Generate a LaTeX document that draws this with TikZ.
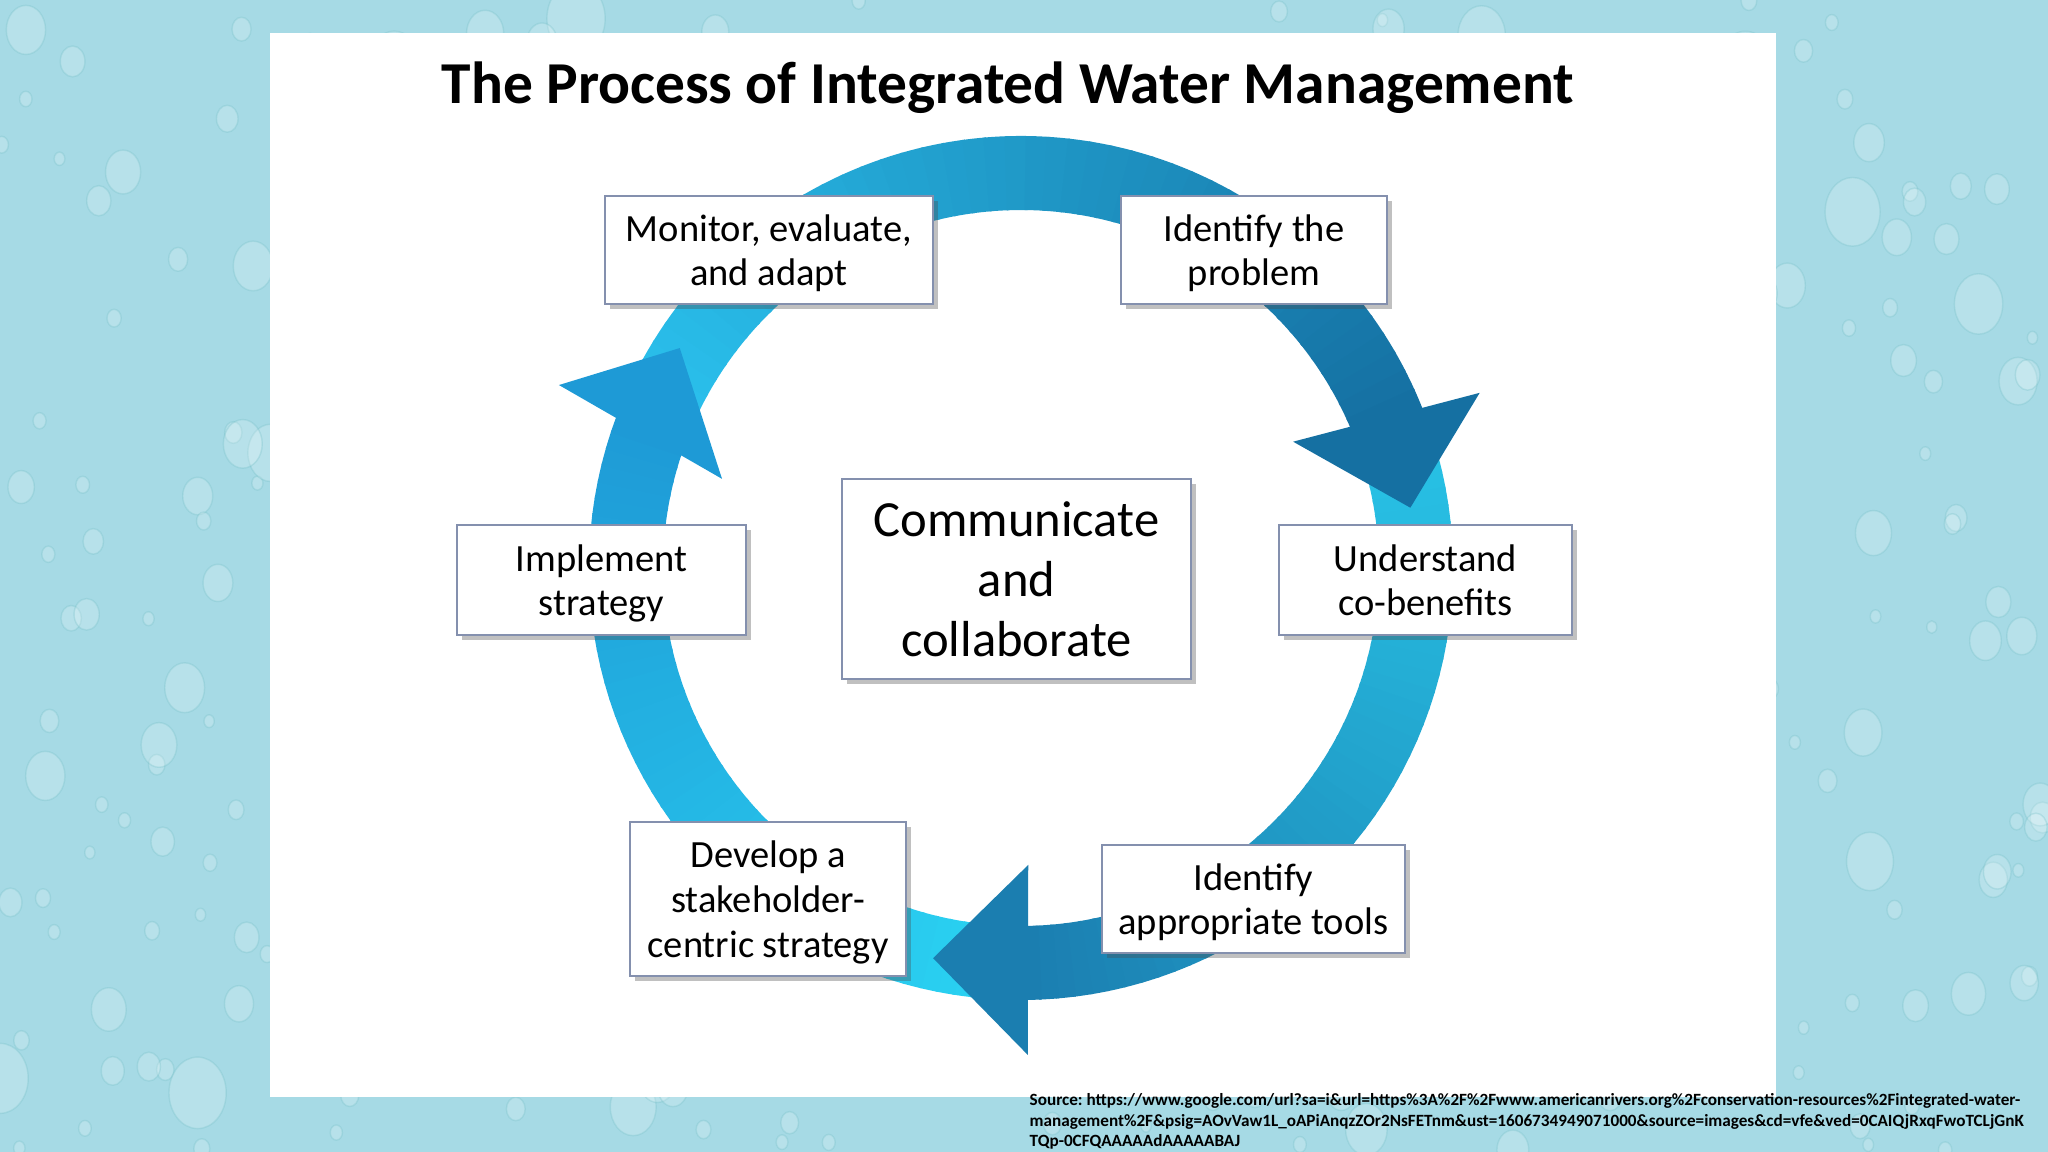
\documentclass[tikz,border=0pt]{standalone}
\usepackage{fontspec}
\setmainfont{Carlito}
\usepackage{tikz}
\usetikzlibrary{shadows}

\definecolor{bgaqua}{HTML}{A6DAE5}
\definecolor{boxline}{HTML}{8490AE}
\definecolor{topL}{HTML}{2AC0EC}
\definecolor{topD}{HTML}{1570A2}
\definecolor{rgtL}{HTML}{28C3E6}
\definecolor{rgtD}{HTML}{1B7EB0}
\definecolor{lftL}{HTML}{2AD2F2}
\definecolor{lftD}{HTML}{1E9AD6}

\begin{document}
\begin{tikzpicture}[x=0.01cm,y=0.01cm,
  every node/.style={font=\fontsize{10.95}{12.7}\selectfont},
  stage/.style={draw=boxline,line width=0.6pt,fill=white,align=center,inner sep=0pt,
    text depth=-1.1pt,
    drop shadow={shadow xshift=0.05cm,shadow yshift=-0.05cm,opacity=0.35,fill=black!70}},
  drop/.style={fill=white,fill opacity=0.2,draw=bgaqua!70!teal,draw opacity=0.3,line width=0.4pt},
  ring/.style={line width=0.74cm},
  head/.style={shift={(c)}}]
\useasboundingbox (0,0) rectangle (2048,1152);
% slide with water drops, white panel
\begin{scope}
\clip (0,0) rectangle (2048,1152);
\fill[bgaqua] (0,0) rectangle (2048,1152);
\pgfmathsetseed{11}
\foreach \i in {1,...,420}{
  \pgfmathsetmacro\dx{rnd*2048}
  \pgfmathsetmacro\dy{rnd*1152}
  \pgfmathsetmacro\dr{5+rnd*rnd*26}
  \draw[drop] (\dx,\dy) ellipse[x radius=\dr,y radius=1.25*\dr];
}
\end{scope}
\fill[white] (270,55) rectangle (1776,1119);
\coordinate (c) at (1021,584);

% three curved arrows, light at the tail, dark at the head
\foreach \sa/\ea/\cl/\cd in {157/21.8/topL/topD,20/-89.5/rgtL/rgtD,-92/-200.5/lftL/lftD}{
  \foreach \k in {0,...,47}{
    \pgfmathsetmacro\ta{\sa+(\ea-\sa)*\k/48}
    \pgfmathsetmacro\tb{\sa+(\ea-\sa)*(\k+1)/48-0.4}
    \pgfmathtruncatemacro\pc{100*\k/47}
    \draw[ring,color=\cd!\pc!\cl] (c) ++(\ta:395) arc[start angle=\ta,end angle=\tb,radius=395];
  }
}
\fill[topD,head] (24.9:300) -- (8.8:394) -- (20.9:491) -- cycle;
\fill[rgtD,head] (-88.6:297) -- (-102.7:400) -- (-89.2:487) -- cycle;
\fill[lftD,head] (163.4:312) -- (147.2:406) -- (158.4:497) -- cycle;

% steps
\node[stage,minimum width=3.28cm,minimum height=1.08cm] (monitor) at (769,902) {Monitor, evaluate,\\and adapt};
\node[stage,minimum width=2.66cm,minimum height=1.08cm] (problem) at (1254,902) {Identify the\\problem};
\node[stage,minimum width=2.89cm,minimum height=1.10cm] (implement) at (601.5,572) {Implement\\strategy};
\node[stage,minimum width=2.93cm,minimum height=1.10cm] (cobenefit) at (1425.5,572) {Understand\\co-benefits};
\node[stage,minimum width=3.49cm,minimum height=2.00cm,font=\fontsize{14.4}{17.1}\selectfont,
  text depth=-1.45pt] (commun) at (1016.5,573) {Communicate\\and\\collaborate};
\node[stage,minimum width=2.76cm,minimum height=1.54cm] (develop) at (768,253) {Develop a\\stakeholder-\\centric strategy};
\node[stage,minimum width=3.03cm,minimum height=1.08cm] (tools) at (1253.5,253) {Identify\\appropriate tools};

% title and source
\node[font=\fontsize{16.9}{20}\selectfont\bfseries,anchor=base] (title) at (1008,1048) {The Process of Integrated Water Management};
\node[font=\fontsize{4.88}{5.8}\selectfont\bfseries\frenchspacing,align=left,anchor=north west,inner sep=0pt] (source) at (1029,59)
  {Source: https://www.google.com/url?sa=i\&url=https\%3A\%2F\%2Fwww.americanrivers.org\%2Fconservation-resources\%2Fintegrated-water-\\
   management\%2F\&psig=AOvVaw1L\_oAPiAnqzZOr2NsFETnm\&ust=1606734949071000\&source=images\&cd=vfe\&ved=0CAIQjRxqFwoTCLjGnK\\
   TQp-0CFQAAAAAdAAAAABAJ};
\end{tikzpicture}
\end{document}
